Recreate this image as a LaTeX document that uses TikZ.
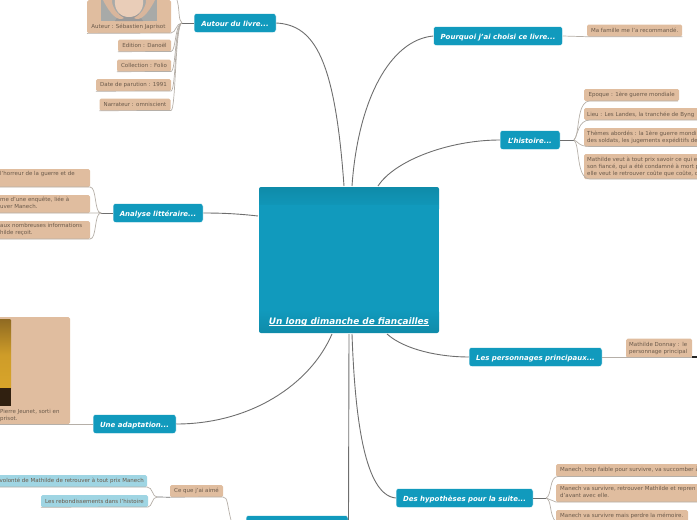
\documentclass[tikz,border=0pt]{standalone}
\usepackage{fontspec}
\setmainfont{DejaVu Sans}
\definecolor{teal1}{HTML}{119ABD}
\definecolor{teal2}{HTML}{0F8BA9}
\definecolor{peach}{HTML}{E0BD9F}
\definecolor{sky}{HTML}{9FD5E3}
\definecolor{inktxt}{HTML}{6B5A4A}
\definecolor{conn}{HTML}{6E6E6E}
\definecolor{conl}{HTML}{B5AFA8}
\definecolor{skin}{HTML}{E9CDB8}
\definecolor{hand}{HTML}{D9B69C}
\definecolor{photobg}{HTML}{A8AAA8}
\definecolor{gold}{HTML}{D9A52A}
\definecolor{amber}{HTML}{8F6A22}
\tikzset{
 x=1pt,y=-1pt,
 mainbranch/.style={fill=teal1,draw=white,line width=.5pt,rounded corners=2.5pt,text=white,font=\fontsize{7}{8}\selectfont\bfseries\itshape,inner sep=0pt,anchor=center,text height=9,text depth=1.5},
 leaf/.style={fill=peach,rounded corners=1.5pt,text=inktxt,font=\fontsize{5.5}{7}\selectfont,inner sep=0pt},
 leafb/.style={fill=sky,rounded corners=1.5pt,text=inktxt,font=\fontsize{5.5}{7}\selectfont,inner sep=0pt},
 txt/.style={text=inktxt,font=\fontsize{5.5}{7}\selectfont,inner sep=0pt},
 bigline/.style={draw=conn,line width=.9pt},
 thinline/.style={draw=conl,line width=.7pt},
}
\begin{document}
\begin{tikzpicture}
\useasboundingbox (0,0) rectangle (697,520);
\clip (0,0) rectangle (697,520);
\coordinate (ca) at (344,186);
\coordinate (cb) at (352,186);
\coordinate (cc) at (378,186);
\coordinate (cd) at (258,216);
\coordinate (ce) at (332,334);
\coordinate (cf) at (349,334);
\coordinate (cg) at (352,334);
\coordinate (ch) at (387,334);
\coordinate (cfend) at (348.5,520);
% centre
\shade[top color=teal2,bottom color=teal1,rounded corners=2pt] (259,187) rectangle (439,211);
\fill[teal1] (259,205) rectangle (439,312);
\shade[top color=teal1,bottom color=teal2,rounded corners=2pt] (259,310) rectangle (439,333);
\node[text=white,font=\fontsize{8.9}{10}\selectfont\bfseries\itshape,inner sep=0pt] (center) at (349,325) {\underline{\smash{Un long dimanche de fiançailles}}};
% main branches
\node[mainbranch,minimum width=82,minimum height=19] (auteur) at (235,23) {Autour du livre...};
\node[mainbranch,minimum width=129,minimum height=19] (pourquoi) at (498,36) {Pourquoi j'ai choisi ce livre...};
\node[mainbranch,minimum width=60,minimum height=19] (histoire) at (530,140) {L'histoire...};
\node[mainbranch,minimum width=90,minimum height=19] (analyse) at (158,213) {Analyse littéraire...};
\node[mainbranch,minimum width=133,minimum height=19] (perso) at (535.5,357) {Les personnages principaux...};
\node[mainbranch,minimum width=83,minimum height=19] (adapt) at (134.5,424) {Une adaptation...};
\node[mainbranch,minimum width=137,minimum height=19] (hypo) at (464.5,498) {Des hypothèses pour la suite...};
\node[mainbranch,minimum width=102,minimum height=19] (avis) at (297,525) {};
% main connectors
\draw[bigline] (auteur.east) .. controls (315,25) and (335,60) .. (ca);
\draw[bigline] (cb) .. controls (358,100) and (390,40) .. (pourquoi.west);
\draw[bigline] (cc) .. controls (395,160) and (450,140) .. (histoire.west);
\draw[bigline] (analyse.east) .. controls (225,213) and (240,214) .. (cd);
\draw[bigline] (ce) .. controls (310,385) and (250,424) .. (adapt.east);
\draw[bigline] (ch) .. controls (405,350) and (440,357) .. (perso.west);
\draw[bigline] (cg) .. controls (355,420) and (365,495) .. (hypo.west);
\draw[bigline] (cf) -- (cfend);
% image leaf top-left
\node[leaf,minimum width=84,minimum height=33,anchor=north west] (auth) at (87,0) {};
\fill[photobg] (101,0) rectangle (157,21);
\fill[conn!70!white] (115,21) -- (120,13) -- (138,13) -- (143,21) -- cycle;
\fill[skin] (115,0) .. controls (114,10) and (120,17) .. (129,17) .. controls (138,17) and (144,10) .. (143,0) -- cycle;
\fill[hand] (103,0) -- (112,0) .. controls (112,8) and (117,14) .. (124,18) .. controls (118,22) and (110,14) .. (103,0) -- cycle;
\fill[hand] (155,0) -- (146,0) .. controls (146,8) and (141,14) .. (134,18) .. controls (140,22) and (148,14) .. (155,0) -- cycle;
\node[txt] (autlabel) at (128.5,26.5) {Auteur : Sébastien Japrisot};
% author leaves
\node[leaf,minimum width=53,minimum height=12] (ed) at (144.5,45.5) {Edition : Danoël};
\node[leaf,minimum width=54,minimum height=12] (col) at (144,65.5) {Collection : Folio};
\node[leaf,minimum width=75,minimum height=12] (date) at (133.5,85) {Date de parution : 1991};
\node[leaf,minimum width=71,minimum height=12] (narr) at (135,104.5) {Narrateur : omniscient};
\coordinate (hub1) at (182,23);
\draw[bigline] (auteur.west) -- (hub1);
\draw[thinline] (auth.south west) -- (171,33) .. controls (176,33) and (176,23) .. (hub1);
\draw[thinline] (ed.south west) -- (171,51.5) .. controls (176,51.5) and (175,23) .. (hub1);
\draw[thinline] (col.south west) -- (171,71.5) .. controls (176,71.5) and (175,23) .. (hub1);
\draw[thinline] (date.south west) -- (171,91) .. controls (176,91) and (175,23) .. (hub1);
\draw[thinline] (narr.south west) -- (171,110.5) .. controls (176,110.5) and (175,23) .. (hub1);
\draw[thinline] (hub1) .. controls (178,20) and (180,10) .. (177,0);
% why
\node[leaf,minimum width=95,minimum height=12,anchor=west] (fam) at (587,30.5) {Ma famille me l'a recommandé.};
\draw[thinline] (pourquoi.east) -- (fam.south west) -- (fam.south east);
% history
\node[leaf,minimum width=95,minimum height=12,anchor=west] (epo) at (584,95) {Epoque : 1ère guerre mondiale};
\fill[peach,rounded corners=1.5pt] (584,108) rectangle (700,120);
\fill[peach,rounded corners=1.5pt] (584,128) rectangle (700,146.5);
\fill[peach,rounded corners=1.5pt] (584,154) rectangle (700,179);
\node[txt,anchor=west] (lieu) at (587,115) {Lieu : Les Landes, la tranchée de Byng};
\node[txt,anchor=north west,align=left] (them) at (587,130.5) {Thèmes abordés : la 1ère guerre mondi\\des soldats, les jugements expéditifs de};
\node[txt,anchor=north west,align=left] (mat) at (587,156.5) {Mathilde veut à tout prix savoir ce qui e\\son fiancé, qui a été condamné à mort p\\elle veut le retrouver coûte que coûte, c};
\coordinate (hub2) at (574,140);
\draw[bigline] (histoire.east) -- (hub2);
\draw[thinline] (hub2) .. controls (580,135) and (576,101) .. (590,101) -- (678,101);
\draw[thinline] (hub2) .. controls (578,135) and (578,120) .. (590,120) -- (697,120);
\draw[thinline] (hub2) .. controls (578,141) and (578,146.5) .. (590,146.5) -- (697,146.5);
\draw[thinline] (hub2) .. controls (580,145) and (576,179) .. (590,179) -- (697,179);
% analyse
\fill[peach,rounded corners=1.5pt] (-10,169) rectangle (90,187);
\fill[peach,rounded corners=1.5pt] (-10,195) rectangle (90,213);
\fill[peach,rounded corners=1.5pt] (-10,221) rectangle (90,239);
\node[txt,anchor=north west] (an1) at (0,171) {l'horreur de la guerre et de};
\node[txt,anchor=north west,align=left] (an2) at (0,197) {me d'une enquête, liée à\\uver Manech.};
\node[txt,anchor=north west,align=left] (an3) at (0,223) {aux nombreuses informations\\hilde reçoit.};
\coordinate (hub3) at (101,213);
\draw[bigline] (analyse.west) -- (hub3);
\draw[thinline] (0,187) -- (90,187) .. controls (97,187) and (94,213) .. (hub3) -- (0,213);
\draw[thinline] (hub3) .. controls (94,213) and (97,239) .. (90,239) -- (0,239);
% adapt
\fill[peach,rounded corners=1.5pt] (-10,317) rectangle (70,424);
\shade[top color=amber,bottom color=gold,middle color=gold!85!amber,rounded corners=1pt] (-5,319) rectangle (11,390);
\fill[black!75!brown] (-5,388) rectangle (11,406);
\node[txt,anchor=north west,align=left] (film) at (0,409) {Pierre Jeunet, sorti en\\prisot.};
\draw[thinline] (0,424) -- (adapt.west);
% perso
\node[leaf,minimum width=66,minimum height=19,align=left,text width=60,anchor=north west] (mat2) at (626,338.5) {Mathilde Donnay : le\\personnage principal};
\draw[thinline] (perso.east) -- (692,357);
\draw[draw=black!85,line width=1.1pt] (692,357) -- (697,357);
% hypo
\fill[peach,rounded corners=1.5pt] (556,464) rectangle (700,476.5);
\fill[peach,rounded corners=1.5pt] (556,484) rectangle (700,502);
\fill[peach,rounded corners=1.5pt] (556,510) rectangle (688,522);
\node[txt,anchor=west] (h1) at (560,470) {Manech, trop faible pour survivre, va succomber à};
\node[txt,anchor=north west,align=left] (h2) at (560,486.5) {Manech va survivre, retrouver Mathilde et repren\\d'avant avec elle.};
\node[txt,anchor=west] (h3) at (560,516) {Manech va survivre mais perdre la mémoire.};
\coordinate (hub4) at (546,498);
\draw[bigline] (hypo.east) -- (hub4);
\draw[thinline] (hub4) .. controls (552,496) and (549,476.5) .. (558,476.5) -- (697,476.5);
\draw[thinline] (hub4) -- (556,502) -- (697,502);
\draw[thinline] (hub4) .. controls (552,500) and (549,515) .. (556,522);
% avis
\node[leaf,minimum width=53,minimum height=12] (aime) at (196.5,491) {Ce que j'ai aimé};
\draw[thinline] (aime.south west) -- (223,497) .. controls (228,497) and (227,505) .. (231,520);
\fill[sky,rounded corners=1.5pt] (-10,475) rectangle (147,487);
\node[leafb,minimum width=107,minimum height=12] (reb) at (94.5,501) {Les rebondissements dans l'histoire};
\node[txt,anchor=east] (vol) at (144,481) {volonté de Mathilde de retrouver à tout prix Manech};
\coordinate (hub5) at (157,497);
\draw[draw=conn,line width=.7pt] (hub5) -- (aime.south west);
\draw[thinline] (0,487) -- (147,487) .. controls (153,487) and (152,497) .. (hub5);
\draw[thinline] (reb.south west) -- (148,507) .. controls (152,507) and (152,497) .. (hub5);
\end{tikzpicture}
\end{document}
